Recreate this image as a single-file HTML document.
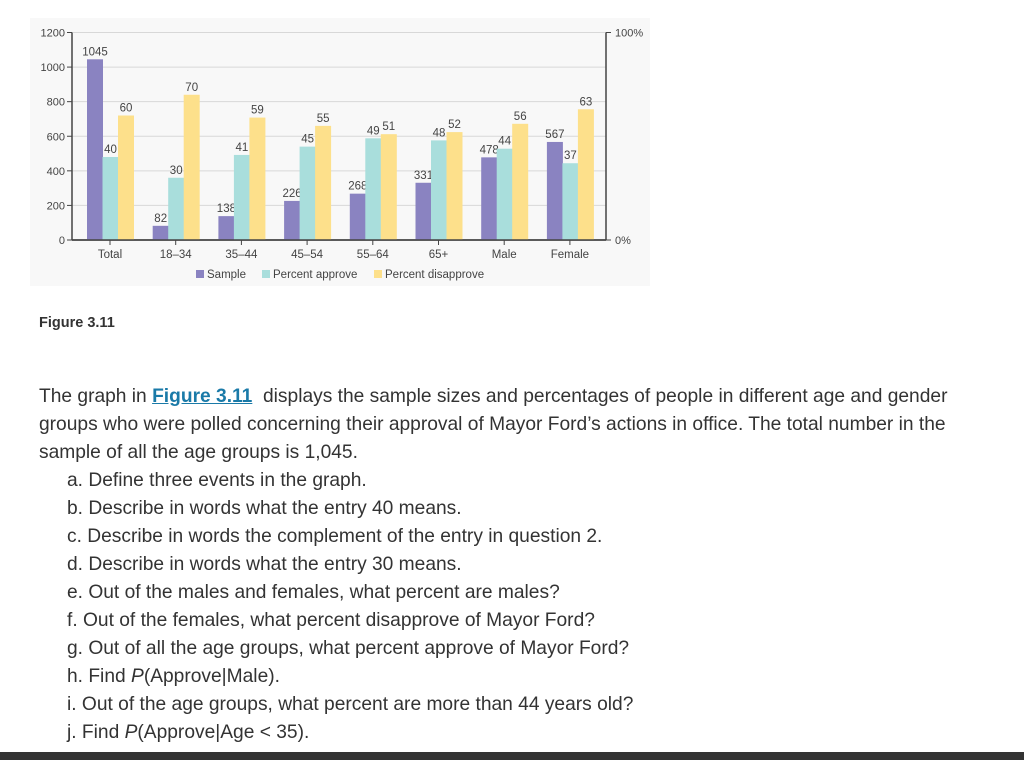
<!DOCTYPE html>
<html><head><meta charset="utf-8"><style>
body{margin:0;width:1024px;height:760px;background:#fff;font-family:"Liberation Sans",Arial,sans-serif;color:#333;position:relative;overflow:hidden}
#chartbg{position:absolute;left:30px;top:18px;width:620px;height:268px;background:#f8f8f8}
svg{position:absolute;left:0;top:0}
.fig{position:absolute;left:39px;top:315px;font-size:14.5px;font-weight:bold;color:#333}
.txt{position:absolute;left:39px;top:383px;width:940px;font-size:19.2px;line-height:28px;color:#333}
.txt a{color:#1a7aa8;font-weight:bold;text-decoration:underline}
.item{padding-left:28px}
.bar{position:absolute;left:0;top:752px;width:1024px;height:8px;background:#333}
</style></head><body>
<div id="chartbg"></div>
<svg id="chart" width="1024" height="300"></svg>
<div class="fig">Figure 3.11</div>
<div class="txt">
The graph in <a>Figure 3.11</a>&nbsp; displays the sample sizes and percentages of people in different age and gender groups who were polled concerning their approval of Mayor Ford’s actions in office. The total number in the sample of all the age groups is 1,045.
<div class="item">a. Define three events in the graph.</div>
<div class="item">b. Describe in words what the entry 40 means.</div>
<div class="item">c. Describe in words the complement of the entry in question 2.</div>
<div class="item">d. Describe in words what the entry 30 means.</div>
<div class="item">e. Out of the males and females, what percent are males?</div>
<div class="item">f. Out of the females, what percent disapprove of Mayor Ford?</div>
<div class="item">g. Out of all the age groups, what percent approve of Mayor Ford?</div>
<div class="item">h. Find <i>P</i>(Approve|Male).</div>
<div class="item">i. Out of the age groups, what percent are more than 44 years old?</div>
<div class="item">j. Find <i>P</i>(Approve|Age &lt; 35).</div>
</div>
<div class="bar"></div>
<script>
const categories=["Total","18–34","35–44","45–54","55–64","65+","Male","Female"];
const sample=[1045,82,138,226,268,331,478,567];
const approve=[40,30,41,45,49,48,44,37];
const disapprove=[60,70,59,55,51,52,56,63];
const leftTicks=[0,200,400,600,800,1000,1200];
const NS="http://www.w3.org/2000/svg";
const svg=document.getElementById('chart');
const X0=72,X1=606,Y0=240,Y1=32.5,C0=110,STEP=65.7,BW=16;
const yL=v=>Y0-(v/1200)*(Y0-Y1);
const yP=v=>Y0-(v/100)*(Y0-Y1);
const cx=i=>C0+i*STEP;
function mk(t,a,txt){const e=document.createElementNS(NS,t);for(const k in a)e.setAttribute(k,a[k]);if(txt!==undefined)e.textContent=txt;svg.appendChild(e);return e;}
leftTicks.forEach(v=>{
 const g=mk('line',{x1:X0,x2:X1,y1:yL(v),y2:yL(v),stroke:v?'#d8d8d8':'#444','stroke-width':v?1:1.5});
 
 
 mk('line',{x1:X0-5,x2:X0,y1:yL(v),y2:yL(v),stroke:'#444'});
 const t=mk('text',{x:X0-7,y:yL(v)+4,'text-anchor':'end','font-size':11,fill:'#444'},v);
 
 
});
mk('line',{x1:X0,x2:X0,y1:Y1,y2:Y0,stroke:'#444','stroke-width':1.5});
mk('line',{x1:X1,x2:X1,y1:Y1,y2:Y0,stroke:'#444','stroke-width':1.5});
[[0,'0%'],[100,'100%']].forEach(([v,l])=>{
 mk('line',{x1:X1,x2:X1+5,y1:yP(v),y2:yP(v),stroke:'#444'});
 const t=mk('text',{x:X1+9,y:yP(v)+4,'font-size':11,fill:'#444'},l);
 
 
});
function bar(x,y,name,fill,lab){
 const r=mk('rect',{x:x,y:y,width:BW,height:Y0-y,fill:fill});
 
 
 const t=mk('text',{x:x+BW/2,y:y-4,'text-anchor':'middle','font-size':11.5,fill:'#444'},lab);
 
 
}
categories.forEach((c,i)=>{
 const s=cx(i)-23;
 bar(s,yL(sample[i]),'bar-sample','#8a83c1',sample[i]);
 bar(s+BW-0.5,yP(approve[i]),'bar-approve','#a9dedc',approve[i]);
 bar(s+2*BW-1,yP(disapprove[i]),'bar-disapprove','#fde08b',disapprove[i]);
 mk('line',{x1:cx(i),x2:cx(i),y1:Y0,y2:Y0+5,stroke:'#444'});
 const t=mk('text',{x:cx(i),y:258,'text-anchor':'middle','font-size':11.5,fill:'#444'},c);
 
 
});
mk('line',{x1:X0,x2:X1,y1:Y0,y2:Y0,stroke:'#444','stroke-width':1.5});
[['Sample','#8a83c1',196],['Percent approve','#a9dedc',262],['Percent disapprove','#fde08b',374]].forEach(([l,c,x])=>{
 const r=mk('rect',{x:x,y:270,width:8,height:8,fill:c});
 
 
 const t=mk('text',{x:x+11,y:278,'font-size':11.5,fill:'#444'},l);
 
 
});
</script>
</body></html>
